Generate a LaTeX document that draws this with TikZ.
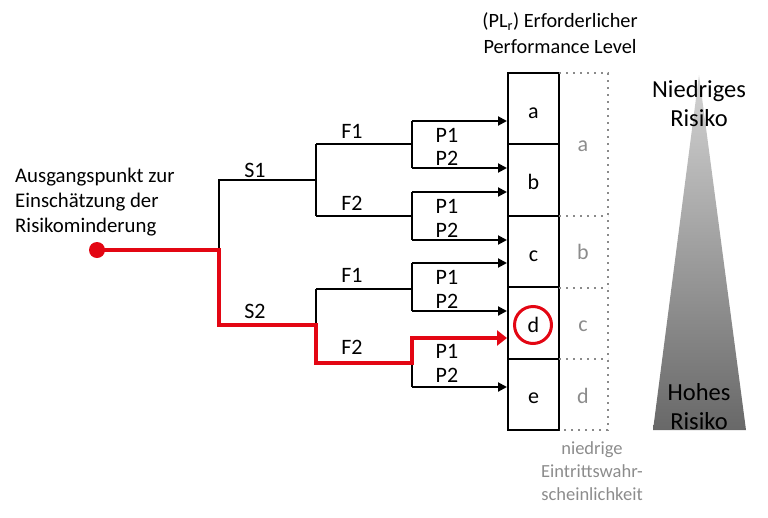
\documentclass[tikz,border=0pt]{standalone}
\usepackage{fontspec}
\setmainfont{Carlito}
\usetikzlibrary{arrows.meta}
\definecolor{redc}{HTML}{E30613}
\definecolor{grayt}{HTML}{8C8C8C}
\definecolor{dotc}{HTML}{8A8A8A}
\definecolor{tritop}{HTML}{D4D4D4}
\definecolor{tribot}{HTML}{686868}
\begin{document}
\begin{tikzpicture}[x=1pt,y=-1pt,
  blk/.style={line width=2pt},
  arr/.style={line width=2pt,-{Triangle[length=9pt,width=9pt]}},
  redpath/.style={draw=redc,line width=4pt,line join=miter,-{Triangle[length=10pt,width=15pt]}},
  lbl/.style={font=\fontsize{22}{26}\selectfont,inner sep=0pt},
  plbox/.style={draw,line width=2pt,minimum width=51pt,minimum height=71.4pt,inner sep=0pt,text height=19pt,text depth=0pt,font=\fontsize{22}{26}\selectfont},
  glbl/.style={lbl,text=grayt},
  dotl/.style={draw=dotc,line width=1.8pt,dash pattern=on 1.8pt off 5.2pt},
]
\useasboundingbox (0,0) rectangle (768,517);

% triangle
\shade[top color=tritop,bottom color=tribot] (699,75) -- (746,430) -- (653,430) -- cycle;
\node[inner sep=0pt,align=center,font=\fontsize{24.5}{29}\selectfont] (low) at (699,104) {Niedriges\\Risiko};
\node[inner sep=0pt,align=center,font=\fontsize{24.5}{29}\selectfont] (high) at (699,407) {Hohes\\Risiko};

% title
\node[inner sep=0pt,align=center,font=\fontsize{20.3}{26}\selectfont] (title) at (560,33) {(PL\textsubscript{r}) Erforderlicher\\Performance Level};

% left text
\node[inner sep=0pt,align=left,anchor=west,font=\fontsize{20.8}{25}\selectfont] (start text) at (15,202) {Ausgangspunkt zur\\Einschätzung der\\Risikominderung};

% boxes
\node[plbox] (bA) at (533.5,108.7) {a};
\node[plbox] (bB) at (533.5,180.1) {b};
\node[plbox] (bC) at (533.5,251.5) {c};
\node[plbox] (bD) at (533.5,322.9) {d};
\node[plbox] (bE) at (533.5,394.3) {e};

% dotted frame
\coordinate (q0) at (559,73);
\coordinate (q1) at (559,216);
\coordinate (q2) at (559,288);
\coordinate (q3) at (559,359);
\coordinate (q4) at (559,430);
\coordinate (r0) at (608,73);
\coordinate (r1) at (608,216);
\coordinate (r2) at (608,288);
\coordinate (r3) at (608,359);
\coordinate (r4) at (608,430);
\draw[dotl] (q0) -- (r0) -- (r4) -- (q4);
\draw[dotl] (q1) -- (r1);
\draw[dotl] (q2) -- (r2);
\draw[dotl] (q3) -- (r3);
\node[glbl] (ga) at (583,146) {a};
\node[glbl] (gb) at (583,252) {b};
\node[glbl] (gc) at (583,326) {c};
\node[glbl] (gd) at (583,396) {d};
\node[inner sep=0pt,align=center,text=grayt,font=\fontsize{18.5}{23}\selectfont] (prob) at (592,471) {niedrige\\Eintrittswahr-\\scheinlichkeit};

% tree coordinates
\coordinate (start) at (97,250);
\coordinate (s) at (219,250);
\coordinate (s1) at (219,180);
\coordinate (s2) at (219,325);
\coordinate (f1) at (316,180);
\coordinate (f1a) at (316,144);
\coordinate (f1b) at (316,216);
\coordinate (f2) at (316,325);
\coordinate (f2a) at (316,289);
\coordinate (f2b) at (316,363);
\coordinate (pa) at (412,144);
\coordinate (pa1) at (412,121);
\coordinate (pa2) at (412,168);
\coordinate (pb) at (412,216);
\coordinate (pb1) at (412,192);
\coordinate (pb2) at (412,240);
\coordinate (pc) at (412,289);
\coordinate (pc1) at (412,263);
\coordinate (pc2) at (412,311);
\coordinate (pd) at (412,363);
\coordinate (pd1) at (412,338);
\coordinate (pd2) at (412,387);

% black branches
\draw[blk] (s) -- (s1) -- (f1);
\draw[blk] (f1a) -- (f1b);
\draw[blk] (f1a) -- (pa);
\draw[blk] (f1b) -- (pb);
\draw[blk] (f2a) -- (f2);
\draw[blk] (f2a) -- (pc);
\draw[blk] (pa1) -- (pa2);
\draw[blk] (pb1) -- (pb2);
\draw[blk] (pc1) -- (pc2);
\draw[blk] (pd) -- (pd2);
\draw[arr] (pa1) -- (pa1 -| bA.west);
\draw[arr] (pa2) -- (pa2 -| bB.west);
\draw[arr] (pb1) -- (pb1 -| bB.west);
\draw[arr] (pb2) -- (pb2 -| bC.west);
\draw[arr] (pc1) -- (pc1 -| bC.west);
\draw[arr] (pc2) -- (pc2 -| bD.west);
\draw[arr] (pd2) -- (pd2 -| bE.west);

% red path
\draw[redpath] (start) -- (s) -- (s2) -- (f2) -- (f2b) -- (pd) -- (pd1) -- (pd1 -| bD.west);
\fill[redc] (start) circle (8pt);
\node[circle,draw=redc,line width=3pt,minimum size=37pt,inner sep=0pt] (ring) at (533,325) {};

% labels
\node[lbl] (ls1) at (255,170) {S1};
\node[lbl] (ls2) at (255,311) {S2};
\node[lbl] (lf1) at (352,131) {F1};
\node[lbl] (lf2) at (352,203) {F2};
\node[lbl] (lf3) at (352,275) {F1};
\node[lbl] (lf4) at (352,347) {F2};
\node[lbl] (lp1) at (447,135) {P1};
\node[lbl] (lp2) at (447,158) {P2};
\node[lbl] (lp3) at (447,206) {P1};
\node[lbl] (lp4) at (447,230) {P2};
\node[lbl] (lp5) at (447,277) {P1};
\node[lbl] (lp6) at (447,301) {P2};
\node[lbl] (lp7) at (447,351) {P1};
\node[lbl] (lp8) at (447,375) {P2};
\end{tikzpicture}
\end{document}
